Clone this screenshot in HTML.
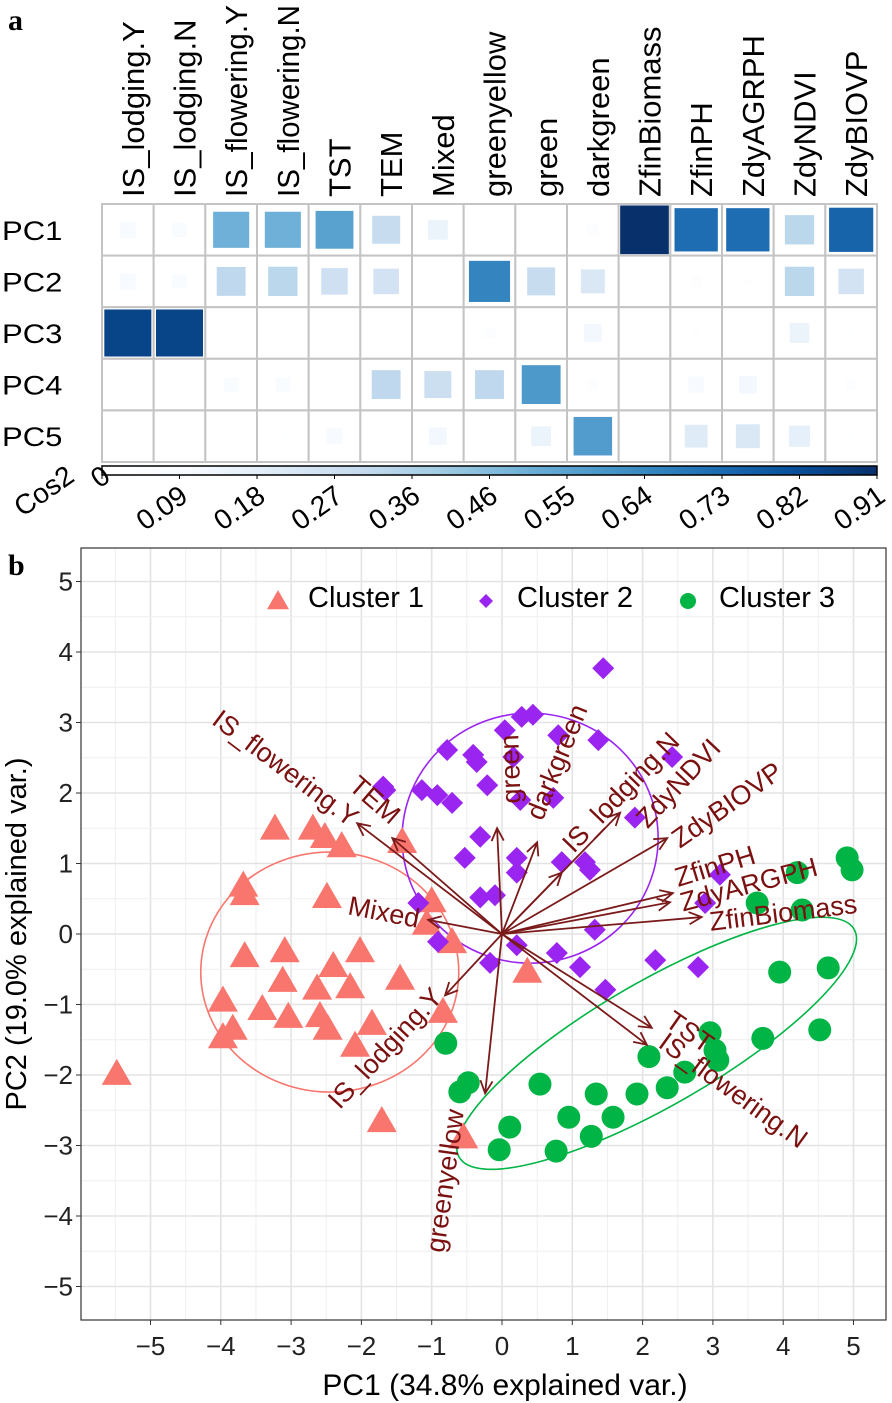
<!DOCTYPE html>
<html><head><meta charset="utf-8"><style>
html,body{margin:0;padding:0;background:#fff;}
svg{display:block;font-family:"Liberation Sans",sans-serif;}
</style></head><body>
<svg id="fig" width="892" height="1403" viewBox="0 0 892 1403">
<text x="8" y="30" font-family="Liberation Serif" font-weight="bold" font-size="30">a</text>
<text x="8" y="575" font-family="Liberation Serif" font-weight="bold" font-size="30">b</text>
<g id="heat"></g>
<g id="bip"></g>
</svg>
<script>
const vars = ["IS_lodging.Y","IS_lodging.N","IS_flowering.Y","IS_flowering.N","TST","TEM","Mixed","greenyellow","green","darkgreen","ZfinBiomass","ZfinPH","ZdyAGRPH","ZdyNDVI","ZdyBIOVP"];
const pcs = ["PC1","PC2","PC3","PC4","PC5"];
const cosPC1 = [0.1,0.08,0.5,0.5,0.55,0.3,0.15,0.004,0.003,0.05,0.91,0.72,0.72,0.33,0.75];
const cosPC2 = [0.1,0.08,0.32,0.33,0.27,0.25,0.004,0.65,0.3,0.22,0.004,0.04,0.02,0.33,0.25];
const cosPC3 = [0.85,0.85,0.003,0.003,0.004,0.01,0.003,0.05,0.002,0.12,0.002,0.02,0.003,0.15,0.01];
const cosPC4 = [0.002,0.002,0.08,0.08,0.02,0.32,0.28,0.32,0.58,0.05,0.002,0.1,0.12,0.02,0.04];
const cosPC5 = [0.01,0.01,0.01,0.01,0.1,0.003,0.12,0.01,0.15,0.57,0.01,0.2,0.22,0.17,0.01];
const cbTicks = ["0","0.09","0.18","0.27","0.36","0.46","0.55","0.64","0.73","0.82","0.91"];

const c1x=[-3.23,-2.69,-2.52,-2.28,-3.68,-3.66,-2.49,-1.42,-1.0,-1.07,-0.71,0.36,-3.66,-3.09,-2.02,-2.4,-3.12,-2.63,-2.16,-1.45,-3.97,-3.41,-3.04,-2.59,-2.48,-1.85,-3.83,-3.97,-2.09,-0.84,-5.48,-1.71,-0.55];
const c1y=[1.48,1.48,1.36,1.23,0.67,0.55,0.51,1.29,0.45,0.13,-0.13,-0.55,-0.33,-0.26,-0.26,-0.47,-0.68,-0.79,-0.77,-0.65,-0.96,-1.08,-1.19,-1.18,-1.36,-1.29,-1.36,-1.48,-1.6,-1.12,-2.0,-2.67,-2.9];
const c2x=[1.44,0.28,0.44,0.04,0.8,1.37,-0.78,-0.41,-0.36,0.16,2.42,-0.21,-1.66,-1.14,-0.92,-0.71,0.26,0.73,1.89,-0.31,-0.53,0.21,0.85,1.18,1.25,0.21,-0.31,-0.1,3.1,2.89,-1.19,1.32,-0.91,0.21,0.78,-0.17,1.11,2.18,2.79,1.47,-1.69];
const c2y=[3.77,3.08,3.11,2.89,2.82,2.75,2.61,2.54,2.44,2.51,2.51,2.11,2.04,2.04,1.97,1.86,1.9,1.93,1.65,1.38,1.08,1.08,1.02,1.02,0.91,0.87,0.52,0.55,0.84,0.44,0.44,0.06,-0.11,-0.16,-0.27,-0.41,-0.47,-0.37,-0.47,-0.79,2.09];
const c3x=[4.91,4.98,4.2,3.63,4.27,3.95,4.64,2.96,3.71,4.52,3.03,3.07,2.09,2.6,2.35,-0.8,-0.48,-0.6,0.54,1.34,1.92,0.95,1.58,0.11,1.27,-0.04,0.77];
const c3y=[1.08,0.91,0.87,0.44,0.34,-0.54,-0.48,-1.4,-1.48,-1.36,-1.65,-1.79,-1.74,-1.96,-2.18,-1.55,-2.11,-2.24,-2.13,-2.27,-2.27,-2.6,-2.6,-2.74,-2.87,-3.06,-3.08];
const arrNames=["green","darkgreen","IS_lodging.N","ZdyNDVI","ZdyBIOVP","ZfinPH","ZdyARGPH","ZfinBiomass","TST","IS_flowering.N","greenyellow","IS_lodging.Y","Mixed","TEM","IS_flowering.Y"];
const arrX=[-0.07,0.5,0.85,1.68,2.35,2.43,2.39,2.84,2.13,2.06,-0.24,-0.81,-1.05,-1.56,-2.06];
const arrY=[1.5,1.3,0.87,1.72,1.36,0.58,0.45,0.24,-1.33,-1.57,-2.26,-0.87,0.2,1.36,1.57];
const labX=[0.12,0.78,1.69,2.51,3.2,3.03,3.51,4.0,2.67,3.29,-0.81,-1.66,-1.68,-1.81,-3.08];
const labY=[2.34,2.44,2.01,2.14,1.83,0.96,0.7,0.3,-1.39,-2.22,-3.5,-1.62,0.31,1.9,2.35];
const labRot=[-92,-68,-46,-47,-35,-17,-15,-7,35,36,-82,-47,11,41,37];
const xTicks=[-5,-4,-3,-2,-1,0,1,2,3,4,5];
const yTicks=[5,4,3,2,1,0,-1,-2,-3,-4,-5];

const NS="http://www.w3.org/2000/svg";
function mk(tag,attrs,parent,txt){const e=document.createElementNS(NS,tag);for(const k in attrs)e.setAttribute(k,attrs[k]);if(txt!==undefined)e.textContent=txt;parent.appendChild(e);return e;}
const blues=["#ffffff","#f7fbff","#deebf7","#c6dbef","#9ecae1","#6baed6","#4292c6","#2171b5","#08519c","#08306b"];
function hex(h){return [1,3,5].map(i=>parseInt(h.substr(i,2),16));}
function cmap(v){let t=Math.max(0,Math.min(1,v/0.91))*(blues.length-1);let i=Math.min(blues.length-2,Math.floor(t));let f=t-i;const a=hex(blues[i]),b=hex(blues[i+1]);return "rgb("+a.map((c,j)=>Math.round(c+(b[j]-c)*f)).join(",")+")";}

const H=document.getElementById('heat');
const hx0=102,hy0=204,cw=775/15,ch=258/5;
const rows=[cosPC1,cosPC2,cosPC3,cosPC4,cosPC5];
vars.forEach((v,i)=>{
  const cx=hx0+cw*(i+0.5);
  const t=mk('text',{x:0,y:0,'font-size':31,transform:`translate(${cx+16},197) rotate(-90)`},H,v);
  
  
  if(t.getComputedTextLength()>192){t.setAttribute('textLength',192);t.setAttribute('lengthAdjust','spacingAndGlyphs');}
});
pcs.forEach((p,r)=>{
  const t=mk('text',{x:0,y:0,'font-size':27,transform:`translate(2,${hy0+ch*(r+0.5)+10}) scale(1.15,1)`},H,p);
  
  
  rows[r].forEach((val,i)=>{
    const cell=mk('rect',{x:hx0+cw*i,y:hy0+ch*r,width:cw,height:ch,fill:'#fff',stroke:'#c4c4c4','stroke-width':2},H);
    
    
    const s=(cw-3)*Math.sqrt(val/0.91);
    const sq=mk('rect',{x:hx0+cw*(i+0.5)-s/2,y:hy0+ch*(r+0.5)-s/2,width:s,height:s,fill:cmap(val)},H);
    
    
  });
});
const defs=mk('defs',{},H);
const lg=mk('linearGradient',{id:'cbg',x1:0,x2:1,y1:0,y2:0},defs);
blues.forEach((c,i)=>mk('stop',{offset:i/(blues.length-1),'stop-color':c},lg));
const cb=mk('rect',{x:102,y:466,width:775,height:9,fill:'url(#cbg)',stroke:'#000','stroke-width':1.5},H);


cbTicks.forEach((lab,i)=>{
  const x=102+775*i/(cbTicks.length-1);
  mk('line',{x1:x,x2:x,y1:475,y2:479,stroke:'#000'},H);
  const t=mk('text',{x:0,y:0,'font-size':28,'text-anchor':'end',transform:`translate(${x+10},${i==0?480:500}) rotate(-35)`},H,lab);
  
  
});
const cl=mk('text',{x:0,y:0,'font-size':28,'text-anchor':'end',transform:'translate(76,480) rotate(-35)'},H,'Cos2');



const B=document.getElementById('bip');
const X=u=>502+70.3*u, Y=v=>934-70.5*v;
const L=81,R=886,T=548,Bt=1320;
const bg=mk('rect',{x:L,y:T,width:R-L,height:Bt-T,fill:'#fff'},B);


for(let g=-6;g<=5.5;g+=0.5){const x=X(g);if(x<L||x>R)continue;mk('line',{x1:x,x2:x,y1:T,y2:Bt,stroke:Number.isInteger(g)?'#e3e3e3':'#efefef','stroke-width':Number.isInteger(g)?1.6:1},B);}
for(let g=-5.5;g<=5.5;g+=0.5){const y=Y(g);if(y<T||y>Bt)continue;mk('line',{x1:L,x2:R,y1:y,y2:y,stroke:Number.isInteger(g)?'#e3e3e3':'#efefef','stroke-width':Number.isInteger(g)?1.6:1},B);}
mk('rect',{x:L,y:T,width:R-L,height:Bt-T,fill:'none',stroke:'#333','stroke-width':1.2},B);
xTicks.forEach(v=>{const x=X(v);mk('line',{x1:x,x2:x,y1:Bt,y2:Bt+5,stroke:'#333'},B);
  const t=mk('text',{x:x,y:Bt+35,'font-size':26,'text-anchor':'middle',fill:'#222'},B,(v<0?'\u2212'+(-v):String(v)));
  });
yTicks.forEach(v=>{const y=Y(v);mk('line',{x1:L-5,x2:L,y1:y,y2:y,stroke:'#333'},B);
  const t=mk('text',{x:L-8,y:y+9,'font-size':26,'text-anchor':'end',fill:'#222'},B,(v<0?'\u2212'+(-v):String(v)));
  });
const xt=mk('text',{x:505,y:1395,'font-size':30,'text-anchor':'middle'},B,'PC1 (34.8% explained var.)');

const yt=mk('text',{x:0,y:0,'font-size':29,'text-anchor':'middle',transform:'translate(26,934) rotate(-90)'},B,'PC2 (19.0% explained var.)');


const e1=mk('ellipse',{cx:X(-2.45),cy:Y(-0.54),rx:129,ry:120,fill:'none',stroke:'#f8766d','stroke-width':1.6},B);

const e2=mk('ellipse',{cx:X(0.4),cy:Y(1.36),rx:128,ry:125,fill:'none',stroke:'#9a24f0','stroke-width':1.6},B);

const e3=mk('ellipse',{cx:0,cy:0,rx:228,ry:62,fill:'none',stroke:'#00b445','stroke-width':1.6,transform:`translate(${X(2.2)},${Y(-1.55)}) rotate(-30)`},B);


function tri(x,y,s,col,p){const h=s*0.87;const e=mk('polygon',{points:`${x},${y-h*0.62} ${x-s/2},${y+h*0.38} ${x+s/2},${y+h*0.38}`,fill:col},p);return e;}
function dia(x,y,s,col,p){return mk('polygon',{points:`${x},${y-s} ${x+s},${y} ${x},${y+s} ${x-s},${y}`,fill:col},p);}
c1x.forEach((u,i)=>{const e=tri(X(u),Y(c1y[i]),30,'#f8766d',B);});
c2x.forEach((u,i)=>{const e=dia(X(u),Y(c2y[i]),11,'#9a24f0',B);});
c3x.forEach((u,i)=>{const e=mk('circle',{cx:X(u),cy:Y(c3y[i]),r:11.5,fill:'#00b445'},B);});

arrNames.forEach((n,i)=>{
  const x1=X(0),y1=Y(0),x2=X(arrX[i]),y2=Y(arrY[i]);
  const a=Math.atan2(y2-y1,x2-x1),hl=14,ha=0.45;
  const g=mk('g',{stroke:'#7a1a1a','stroke-width':1.8,fill:'none'},B);
  
  mk('line',{x1:x1,y1:y1,x2:x2,y2:y2},g);
  mk('polyline',{points:`${x2-hl*Math.cos(a-ha)},${y2-hl*Math.sin(a-ha)} ${x2},${y2} ${x2-hl*Math.cos(a+ha)},${y2-hl*Math.sin(a+ha)}`},g);
});
arrNames.forEach((n,i)=>{
  const t=mk('text',{x:0,y:0,'font-size':27,fill:'#7a1010','text-anchor':'middle','dominant-baseline':'central',transform:`translate(${X(labX[i])},${Y(labY[i])}) rotate(${labRot[i]})`},B,n);
  
});

const lgG=mk('g',{},B);

const l1=tri(278,602,22,'#f8766d',lgG);
mk('text',{x:308,y:607,'font-size':29},lgG,'Cluster 1');
const l2=dia(486,601,7,'#9a24f0',lgG);
mk('text',{x:517,y:607,'font-size':29},lgG,'Cluster 2');
const l3=mk('circle',{cx:688,cy:601,r:8,fill:'#00b445'},lgG);
mk('text',{x:719,y:607,'font-size':29},lgG,'Cluster 3');
</script>
</body></html>
